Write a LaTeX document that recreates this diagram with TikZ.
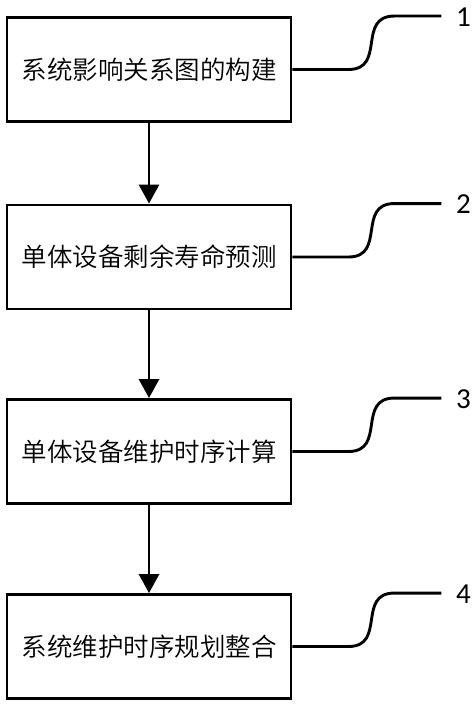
\documentclass[tikz,border=0pt]{standalone}
\usepackage{fontspec}
\usetikzlibrary{arrows.meta,calc}
\newfontfamily\cjkfont{Noto Sans CJK SC DemiLight}
\newfontfamily\numfont{Carlito}
\begin{document}
\begin{tikzpicture}[x=1pt,y=-1pt,
  stepbox/.style={draw,line width=2.9pt,minimum width=284pt,minimum height=104pt,inner sep=0pt,
    font=\cjkfont\fontsize{25.5pt}{28pt}\selectfont},
  flow/.style={line width=2.9pt,-{Triangle[width=20pt,length=19pt]}},
  leader/.style={line width=2.9pt},
  numlabel/.style={font=\numfont\fontsize{29pt}{32pt}\selectfont,inner sep=0pt}]
\useasboundingbox (0,0) rectangle (474,706);
\node[stepbox] (b1) at (149,69.5) {系统影响关系图的构建};
\node[stepbox] (b2) at (149,257) {单体设备剩余寿命预测};
\node[stepbox] (b3) at (149,451.5) {单体设备维护时序计算};
\node[stepbox] (b4) at (149,646.5) {系统维护时序规划整合};
\draw[flow] (b1.south) -- (b2.north);
\draw[flow] (b2.south) -- (b3.north);
\draw[flow] (b3.south) -- (b4.north);
\foreach \b/\n in {b1/1,b2/2,b3/3,b4/4}{
  \coordinate (\b m) at ($(\b.east)+(56,0)$);
  \coordinate (\b t) at ($(\b.north east)+(102,0)$);
  \coordinate (\b e) at ($(\b.north east)+(149,0)$);
  \draw[leader] (\b.east) -- (\b m) .. controls ($(\b m)+(38,0)$) and ($(\b t)+(-38,0)$) .. (\b t) -- (\b e);
  \node[numlabel] (l\n) at ($(\b e)+(22,1)$) {\n};
}
\end{tikzpicture}
\end{document}
